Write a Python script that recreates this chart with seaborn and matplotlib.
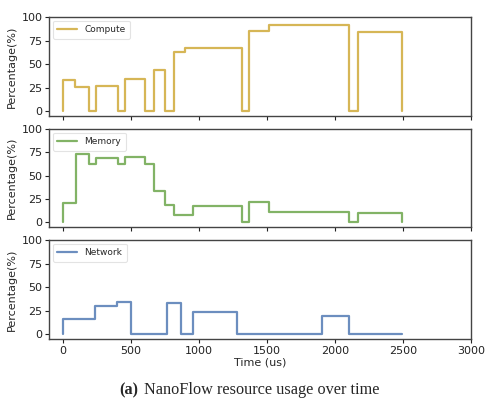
"""
NanoFlow resource usage over time (compute / memory / network)
"""
import matplotlib
matplotlib.use("Agg")
import matplotlib.pyplot as plt
import seaborn as sns
import pandas as pd

# step data: time (us) where each level starts, and level (%)
compute_t = [0, 0, 90, 190, 245, 402, 455, 605, 671, 749, 815, 894, 1318, 1369, 1518, 2106, 2172, 2490]
compute_v = [0, 33, 26, 0, 27, 0, 34, 0, 44, 0, 63, 67, 0, 85, 91, 0, 84, 0]

memory_t = [0, 0, 98, 189, 245, 402, 455, 605, 671, 749, 815, 960, 1318, 1369, 1518, 2106, 2172, 2490]
memory_v = [0, 20, 73, 62, 69, 62, 70, 62, 33, 18, 8, 17, 0, 22, 11, 0, 10, 0]

network_t = [0, 0, 233, 397, 502, 764, 869, 953, 1278, 1908, 2101, 2490]
network_v = [0, 16, 30, 34.5, 0, 33, 0, 24, 0, 19, 0, 0]

series = [
    ("Compute", compute_t, compute_v, "#d6b656"),
    ("Memory", memory_t, memory_v, "#82b366"),
    ("Network", network_t, network_v, "#6c8ebf"),
]

sns.set_theme(style="ticks")
plt.rcParams["font.family"] = ["DejaVu Sans"]

fig = plt.figure(figsize=(4.97, 4.08), dpi=100)

# axes boxes (left, bottom, width, height) in figure fraction
boxes = [
    [0.0992, 0.7157, 0.8485, 0.2426],
    [0.0992, 0.4444, 0.8485, 0.2395],
    [0.0992, 0.1691, 0.8485, 0.2426],
]

for i, (name, t, v, color) in enumerate(series):
    ax = fig.add_axes(boxes[i])
    df = pd.DataFrame({"time": t, "value": v})
    sns.lineplot(data=df, x="time", y="value", ax=ax, color=color,
                 drawstyle="steps-post", estimator=None, sort=False,
                 linewidth=1.6, label=name)
    ax.set_xlim(-100, 3000)
    ax.set_ylim(-5, 100)
    ax.set_yticks([0, 25, 50, 75, 100])
    ax.set_xticks(range(0, 3001, 500))
    ax.set_ylabel("Percentage(%)", fontsize=8, labelpad=3)
    ax.tick_params(labelsize=8, length=3, width=0.8, pad=2, colors="#222222")
    for sp in ax.spines.values():
        sp.set_visible(True)
        sp.set_color("#444444")
        sp.set_linewidth(1.0)
    if i < 2:
        ax.set_xticklabels([])
        ax.set_xlabel("")
    else:
        ax.set_xlabel("Time (us)", fontsize=8, labelpad=1)
    leg = ax.legend(loc="upper left", fontsize=6.5, frameon=True,
                    handlelength=2.2, borderpad=0.5, borderaxespad=0.4)
    leg.get_frame().set_edgecolor("#dddddd")
    leg.get_frame().set_linewidth(0.8)

fig.text(0.2777, 0.044, "(a)", ha="right", va="center", fontsize=11.7,
         fontweight="bold", family="Liberation Serif")
fig.text(0.2897, 0.044, "NanoFlow resource usage over time", ha="left",
         va="center", fontsize=11.7, family="Liberation Serif")

fig.savefig("out.png", dpi=100)
